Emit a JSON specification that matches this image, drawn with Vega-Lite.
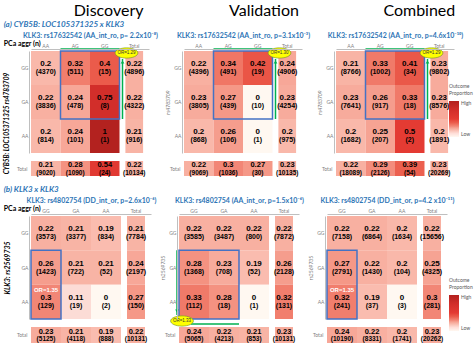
{
 "$schema": "https://vega.github.io/schema/vega-lite/v6.json",
 "padding": {"left": 3, "top": 2, "right": 2, "bottom": 1},
 "background": "white",
 "datasets": {
  "cells": [
   {"pn":"a1","r":"GG","c":"AA","p":0.2,"n":4370},{"pn":"a1","r":"GG","c":"AG","p":0.32,"n":511},{"pn":"a1","r":"GG","c":"GG","p":0.4,"n":15},{"pn":"a1","r":"GG","c":"Total","p":0.22,"n":4896},
   {"pn":"a1","r":"GA","c":"AA","p":0.22,"n":3836},{"pn":"a1","r":"GA","c":"AG","p":0.24,"n":478},{"pn":"a1","r":"GA","c":"GG","p":0.75,"n":8},{"pn":"a1","r":"GA","c":"Total","p":0.22,"n":4322},
   {"pn":"a1","r":"AA","c":"AA","p":0.2,"n":814},{"pn":"a1","r":"AA","c":"AG","p":0.24,"n":101},{"pn":"a1","r":"AA","c":"GG","p":1,"n":1},{"pn":"a1","r":"AA","c":"Total","p":0.21,"n":916},
   {"pn":"a1","r":"Total","c":"AA","p":0.21,"n":9020},{"pn":"a1","r":"Total","c":"AG","p":0.28,"n":1090},{"pn":"a1","r":"Total","c":"GG","p":0.54,"n":24},{"pn":"a1","r":"Total","c":"Total","p":0.22,"n":10134},
   {"pn":"a2","r":"GG","c":"AA","p":0.22,"n":4396},{"pn":"a2","r":"GG","c":"AG","p":0.34,"n":491},{"pn":"a2","r":"GG","c":"GG","p":0.42,"n":19},{"pn":"a2","r":"GG","c":"Total","p":0.24,"n":4906},
   {"pn":"a2","r":"GA","c":"AA","p":0.23,"n":3805},{"pn":"a2","r":"GA","c":"AG","p":0.27,"n":439},{"pn":"a2","r":"GA","c":"GG","p":0,"n":10},{"pn":"a2","r":"GA","c":"Total","p":0.23,"n":4254},
   {"pn":"a2","r":"AA","c":"AA","p":0.2,"n":868},{"pn":"a2","r":"AA","c":"AG","p":0.26,"n":106},{"pn":"a2","r":"AA","c":"GG","p":0,"n":1},{"pn":"a2","r":"AA","c":"Total","p":0.2,"n":975},
   {"pn":"a2","r":"Total","c":"AA","p":0.22,"n":9069},{"pn":"a2","r":"Total","c":"AG","p":0.3,"n":1036},{"pn":"a2","r":"Total","c":"GG","p":0.27,"n":30},{"pn":"a2","r":"Total","c":"Total","p":0.23,"n":10135},
   {"pn":"a3","r":"GG","c":"AA","p":0.21,"n":8766},{"pn":"a3","r":"GG","c":"AG","p":0.33,"n":1002},{"pn":"a3","r":"GG","c":"GG","p":0.41,"n":34},{"pn":"a3","r":"GG","c":"Total","p":0.23,"n":9802},
   {"pn":"a3","r":"GA","c":"AA","p":0.23,"n":7641},{"pn":"a3","r":"GA","c":"AG","p":0.26,"n":917},{"pn":"a3","r":"GA","c":"GG","p":0.33,"n":18},{"pn":"a3","r":"GA","c":"Total","p":0.23,"n":8576},
   {"pn":"a3","r":"AA","c":"AA","p":0.2,"n":1682},{"pn":"a3","r":"AA","c":"AG","p":0.25,"n":207},{"pn":"a3","r":"AA","c":"GG","p":0.5,"n":2},{"pn":"a3","r":"AA","c":"Total","p":0.2,"n":1891},
   {"pn":"a3","r":"Total","c":"AA","p":0.22,"n":18089},{"pn":"a3","r":"Total","c":"AG","p":0.29,"n":2126},{"pn":"a3","r":"Total","c":"GG","p":0.39,"n":54},{"pn":"a3","r":"Total","c":"Total","p":0.23,"n":20269},
   {"pn":"b1","r":"GG","c":"GG","p":0.22,"n":3573},{"pn":"b1","r":"GG","c":"GA","p":0.21,"n":3377},{"pn":"b1","r":"GG","c":"AA","p":0.19,"n":834},{"pn":"b1","r":"GG","c":"Total","p":0.21,"n":7784},
   {"pn":"b1","r":"GA","c":"GG","p":0.26,"n":1423},{"pn":"b1","r":"GA","c":"GA","p":0.21,"n":722},{"pn":"b1","r":"GA","c":"AA","p":0.21,"n":52},{"pn":"b1","r":"GA","c":"Total","p":0.24,"n":2197},
   {"pn":"b1","r":"AA","c":"GG","p":0.3,"n":129},{"pn":"b1","r":"AA","c":"GA","p":0.11,"n":19},{"pn":"b1","r":"AA","c":"AA","p":0,"n":2},{"pn":"b1","r":"AA","c":"Total","p":0.27,"n":150},
   {"pn":"b1","r":"Total","c":"GG","p":0.23,"n":5125},{"pn":"b1","r":"Total","c":"GA","p":0.21,"n":4118},{"pn":"b1","r":"Total","c":"AA","p":0.19,"n":888},{"pn":"b1","r":"Total","c":"Total","p":0.22,"n":10131},
   {"pn":"b2","r":"GG","c":"GG","p":0.22,"n":3585},{"pn":"b2","r":"GG","c":"GA","p":0.22,"n":3487},{"pn":"b2","r":"GG","c":"AA","p":0.22,"n":800},{"pn":"b2","r":"GG","c":"Total","p":0.22,"n":7872},
   {"pn":"b2","r":"GA","c":"GG","p":0.28,"n":1368},{"pn":"b2","r":"GA","c":"GA","p":0.23,"n":708},{"pn":"b2","r":"GA","c":"AA","p":0.19,"n":52},{"pn":"b2","r":"GA","c":"Total","p":0.26,"n":2128},
   {"pn":"b2","r":"AA","c":"GG","p":0.33,"n":112},{"pn":"b2","r":"AA","c":"GA","p":0.28,"n":18},{"pn":"b2","r":"AA","c":"AA","p":0,"n":1},{"pn":"b2","r":"AA","c":"Total","p":0.32,"n":131},
   {"pn":"b2","r":"Total","c":"GG","p":0.24,"n":5065},{"pn":"b2","r":"Total","c":"GA","p":0.22,"n":4213},{"pn":"b2","r":"Total","c":"AA","p":0.21,"n":853},{"pn":"b2","r":"Total","c":"Total","p":0.23,"n":10131},
   {"pn":"b3","r":"GG","c":"GG","p":0.22,"n":7158},{"pn":"b3","r":"GG","c":"GA","p":0.22,"n":6864},{"pn":"b3","r":"GG","c":"AA","p":0.2,"n":1634},{"pn":"b3","r":"GG","c":"Total","p":0.22,"n":15656},
   {"pn":"b3","r":"GA","c":"GG","p":0.27,"n":2791},{"pn":"b3","r":"GA","c":"GA","p":0.22,"n":1430},{"pn":"b3","r":"GA","c":"AA","p":0.2,"n":104},{"pn":"b3","r":"GA","c":"Total","p":0.25,"n":4325},
   {"pn":"b3","r":"AA","c":"GG","p":0.32,"n":241},{"pn":"b3","r":"AA","c":"GA","p":0.19,"n":37},{"pn":"b3","r":"AA","c":"AA","p":0,"n":3},{"pn":"b3","r":"AA","c":"Total","p":0.3,"n":281},
   {"pn":"b3","r":"Total","c":"GG","p":0.24,"n":10190},{"pn":"b3","r":"Total","c":"GA","p":0.22,"n":8331},{"pn":"b3","r":"Total","c":"AA","p":0.2,"n":1741},{"pn":"b3","r":"Total","c":"Total","p":0.23,"n":20262}
  ]
 },
 "config": {
  "view": {"stroke": null},
  "font": "Lato",
  "axis": {"labelFontSize": 5, "labelColor": "#7f7f7f", "ticks": false, "domainColor": "#bfbfbf", "labelAngle": 0, "labelPadding": 1, "titleFontWeight": "bold"},
  "legend": {"titleFontSize": 5, "titleFontWeight": "normal", "titleColor": "#595959", "labelFontSize": 5, "labelColor": "#595959", "gradientLength": 36, "gradientThickness": 10, "orient": "none"},
  "title": {"fontSize": 8, "fontWeight": "bold", "fontStyle": "italic", "color": "#2e75b6", "offset": 2, "anchor": "start"},
  "text": {"font": "Liberation Sans", "fontWeight": "bold", "color": "#000", "baseline": "middle"}
 },
 "resolve": {"scale": {"color": "independent"}},
 "spacing": 10,
 "vconcat": [
  {"spacing": 2, "vconcat": [
   {"width": 466, "height": 17,
    "data": {"values": [{"h": "Discovery"}, {"h": "Validation"}, {"h": "Combined"}]},
    "mark": {"type": "text", "font": "Lato", "fontWeight": "normal", "fontSize": 16, "color": "#000"},
    "encoding": {
     "x": {"field": "h", "type": "nominal", "sort": null, "axis": null, "scale": {"paddingInner": 0, "paddingOuter": 0}},
     "text": {"field": "h"}
    }},
   {"title": {"text": "(a) CYB5B: LOC105371325 x KLK3"}, "spacing": 7, "hconcat": [
    {"bounds": "flush", "spacing": 8, "vconcat": [
     {"width": 118, "height": 102, "data": {"name": "cells"},
      "title": {"text": "PCa aggr (n)", "anchor": "start", "frame": "bounds", "fontSize": 7, "fontWeight": "bold", "fontStyle": "normal", "color": "#000", "offset": -16},
      "encoding": {
       "x": {"field": "c", "type": "nominal", "scale": {"domain": ["AA","AG","GG","Total"], "paddingInner": 0, "paddingOuter": 0}, "axis": {"orient": "top", "offset": 2, "title": "KLK3: rs17632542 (AA_int_ro, p= 2.2x10⁻⁸)", "titleFontSize": 7, "titleColor": "#2e75b6", "titlePadding": 5}},
       "y": {"field": "r", "type": "nominal", "scale": {"domain": ["GG","GA","AA"], "paddingInner": 0, "paddingOuter": 0}, "axis": {"offset": 2, "title": "CYB5B: LOC105371325 rs4783709", "titleFontSize": 6.5, "titleFontStyle": "italic", "titleColor": "#000", "titlePadding": 11, "titleY": 72}}
      },
      "layer": [
       {"transform": [{"filter": "datum.pn==='a1' && datum.r!=='Total' && datum.c!=='Total'"}], "mark": "rect", "encoding": {"color": {"field":"p","type":"quantitative","scale":{"domain":[0,0.11,0.2,0.25,0.3,0.4,0.5,0.75,1],"range":["#ffffff","#fcdcd6","#f9b8aa","#f6a393","#f28676","#eb5b4b","#e43b33","#d22e2a","#b3221f"]},"legend":{"title":["Outcome","Proportion"],"values":[0,1],"labelExpr":"datum.value>=1?'High':'Low'","legendX":418,"legendY":82}}}},
       {"transform": [{"filter": "datum.pn==='a1' && datum.r!=='Total' && datum.c==='Total'"}], "mark": {"type": "rect", "width": {"band": 0.6}}, "encoding": {"color": {"field":"p","type":"quantitative","scale":{"domain":[0,0.11,0.2,0.25,0.3,0.4,0.5,0.75,1],"range":["#ffffff","#fcdcd6","#f9b8aa","#f6a393","#f28676","#eb5b4b","#e43b33","#d22e2a","#b3221f"]},"legend":{"title":["Outcome","Proportion"],"values":[0,1],"labelExpr":"datum.value>=1?'High':'Low'","legendX":418,"legendY":82}}}},
       {"transform": [{"filter": "datum.pn==='a1' && datum.r!=='Total'"}], "mark": {"type": "text", "dy": -4, "fontSize": 8}, "encoding": {"text": {"field": "p", "type": "nominal"}}},
       {"transform": [{"filter": "datum.pn==='a1' && datum.r!=='Total'"}], "mark": {"type": "text", "dy": 4, "fontSize": 7, "text": {"expr": "'(' + datum.n + ')'"}}},
       {"data": {"values": [{}]}, "mark": {"type": "rect", "filled": false, "stroke": "#4472c4", "strokeWidth": 1.5}, "encoding": {"x": {"datum": "AG", "type": "nominal", "bandPosition": 0}, "x2": {"datum": "GG", "bandPosition": 1}, "y": {"datum": "GG", "type": "nominal", "bandPosition": 0}, "y2": {"datum": "GA", "bandPosition": 1}}},
       {"data": {"values": [{}]}, "mark": {"type": "rule", "color": "#00b050", "strokeWidth": 1.5, "yOffset": -2}, "encoding": {"x": {"datum": "AG", "type": "nominal", "bandPosition": 0}, "x2": {"datum": "GG", "bandPosition": 1}, "y": {"datum": "GG", "type": "nominal", "bandPosition": 0}}},
       {"data": {"values": [{}]}, "mark": {"type": "rule", "color": "#00b050", "strokeWidth": 1.5, "xOffset": 3, "y2Offset": 8}, "encoding": {"x": {"datum": "GG", "type": "nominal", "bandPosition": 1}, "y": {"datum": "GA", "type": "nominal", "bandPosition": 1}, "y2": {"datum": "GG", "bandPosition": 0}}},
       {"data": {"values": [{}]}, "mark": {"type": "point", "shape": "triangle-up", "filled": true, "size": 14, "color": "#00b050", "opacity": 1, "xOffset": 3, "yOffset": 11}, "encoding": {"x": {"datum": "GG", "type": "nominal", "bandPosition": 1}, "y": {"datum": "GG", "type": "nominal", "bandPosition": 0}}},
       {"data": {"values": [{}]}, "mark": {"type": "point", "shape": "M-1,0A1,0.45 0 1,0 1,0A1,0.45 0 1,0 -1,0Z", "filled": true, "size": 520, "color": "#ffff00", "stroke": "#6b8e23", "strokeWidth": 0.6, "opacity": 1, "xOffset": 7, "yOffset": 2}, "encoding": {"x": {"datum": "GG", "type": "nominal", "bandPosition": 1}, "y": {"datum": "GG", "type": "nominal", "bandPosition": 0}}},
       {"data": {"values": [{}]}, "mark": {"type": "text", "text": "OR=1.29", "fontSize": 4.5, "fontWeight": "normal", "color": "#333", "xOffset": 7, "yOffset": 2}, "encoding": {"x": {"datum": "GG", "type": "nominal", "bandPosition": 1}, "y": {"datum": "GG", "type": "nominal", "bandPosition": 0}}}
      ]},
     {"width": 118, "height": 15, "data": {"name": "cells"},
      "encoding": {
       "x": {"field": "c", "type": "nominal", "scale": {"domain": ["AA","AG","GG","Total"], "paddingInner": 0, "paddingOuter": 0}, "axis": null},
       "y": {"field": "r", "type": "nominal", "scale": {"domain": ["Total"], "paddingInner": 0, "paddingOuter": 0}, "axis": {"title": null, "domain": false, "labelPadding": 4}}
      },
      "layer": [
       {"transform": [{"filter": "datum.pn==='a1' && datum.r==='Total' && datum.c!=='Total'"}], "mark": "rect", "encoding": {"color": {"field":"p","type":"quantitative","scale":{"domain":[0,0.11,0.2,0.25,0.3,0.4,0.5,0.75,1],"range":["#ffffff","#fcdcd6","#f9b8aa","#f6a393","#f28676","#eb5b4b","#e43b33","#d22e2a","#b3221f"]},"legend":{"title":["Outcome","Proportion"],"values":[0,1],"labelExpr":"datum.value>=1?'High':'Low'","legendX":418,"legendY":82}}}},
       {"transform": [{"filter": "datum.pn==='a1' && datum.r==='Total' && datum.c==='Total'"}], "mark": {"type": "rect", "width": {"band": 0.6}}, "encoding": {"color": {"field":"p","type":"quantitative","scale":{"domain":[0,0.11,0.2,0.25,0.3,0.4,0.5,0.75,1],"range":["#ffffff","#fcdcd6","#f9b8aa","#f6a393","#f28676","#eb5b4b","#e43b33","#d22e2a","#b3221f"]},"legend":{"title":["Outcome","Proportion"],"values":[0,1],"labelExpr":"datum.value>=1?'High':'Low'","legendX":418,"legendY":82}}}},
       {"transform": [{"filter": "datum.pn==='a1' && datum.r==='Total'"}], "mark": {"type": "text", "dy": -3.5, "fontSize": 7.5}, "encoding": {"text": {"field": "p", "type": "nominal"}}},
       {"transform": [{"filter": "datum.pn==='a1' && datum.r==='Total'"}], "mark": {"type": "text", "dy": 4, "fontSize": 6.5, "text": {"expr": "'(' + datum.n + ')'"}}}
      ]}
    ]},
    {"bounds": "flush", "spacing": 8, "vconcat": [
     {"width": 118, "height": 102, "data": {"name": "cells"},
      "encoding": {
       "x": {"field": "c", "type": "nominal", "scale": {"domain": ["AA","AG","GG","Total"], "paddingInner": 0, "paddingOuter": 0}, "axis": {"orient": "top", "offset": 2, "title": "KLK3: rs17632542 (AA_int_ro, p=3.1x10⁻³)", "titleFontSize": 7, "titleColor": "#2e75b6", "titlePadding": 5}},
       "y": {"field": "r", "type": "nominal", "scale": {"domain": ["GG","GA","AA"], "paddingInner": 0, "paddingOuter": 0}, "axis": {"offset": 2, "title": "rs4783709", "titleFontSize": 5, "titleFontWeight": "normal", "titleColor": "#7f7f7f", "titlePadding": 3}}
      },
      "layer": [
       {"transform": [{"filter": "datum.pn==='a2' && datum.r!=='Total' && datum.c!=='Total'"}], "mark": "rect", "encoding": {"color": {"field":"p","type":"quantitative","scale":{"domain":[0,0.11,0.2,0.25,0.3,0.4,0.5,0.75,1],"range":["#ffffff","#fcdcd6","#f9b8aa","#f6a393","#f28676","#eb5b4b","#e43b33","#d22e2a","#b3221f"]},"legend":{"title":["Outcome","Proportion"],"values":[0,1],"labelExpr":"datum.value>=1?'High':'Low'","legendX":418,"legendY":82}}}},
       {"transform": [{"filter": "datum.pn==='a2' && datum.r!=='Total' && datum.c==='Total'"}], "mark": {"type": "rect", "width": {"band": 0.6}}, "encoding": {"color": {"field":"p","type":"quantitative","scale":{"domain":[0,0.11,0.2,0.25,0.3,0.4,0.5,0.75,1],"range":["#ffffff","#fcdcd6","#f9b8aa","#f6a393","#f28676","#eb5b4b","#e43b33","#d22e2a","#b3221f"]},"legend":{"title":["Outcome","Proportion"],"values":[0,1],"labelExpr":"datum.value>=1?'High':'Low'","legendX":418,"legendY":82}}}},
       {"transform": [{"filter": "datum.pn==='a2' && datum.r!=='Total'"}], "mark": {"type": "text", "dy": -4, "fontSize": 8}, "encoding": {"text": {"field": "p", "type": "nominal"}}},
       {"transform": [{"filter": "datum.pn==='a2' && datum.r!=='Total'"}], "mark": {"type": "text", "dy": 4, "fontSize": 7, "text": {"expr": "'(' + datum.n + ')'"}}},
       {"data": {"values": [{}]}, "mark": {"type": "rect", "filled": false, "stroke": "#4472c4", "strokeWidth": 1.5}, "encoding": {"x": {"datum": "AG", "type": "nominal", "bandPosition": 0}, "x2": {"datum": "GG", "bandPosition": 1}, "y": {"datum": "GG", "type": "nominal", "bandPosition": 0}, "y2": {"datum": "GA", "bandPosition": 1}}},
       {"data": {"values": [{}]}, "mark": {"type": "rule", "color": "#00b050", "strokeWidth": 1.5, "yOffset": -2}, "encoding": {"x": {"datum": "AG", "type": "nominal", "bandPosition": 0}, "x2": {"datum": "GG", "bandPosition": 1}, "y": {"datum": "GG", "type": "nominal", "bandPosition": 0}}},
       {"data": {"values": [{}]}, "mark": {"type": "rule", "color": "#00b050", "strokeWidth": 1.5, "xOffset": 3, "y2Offset": 8}, "encoding": {"x": {"datum": "GG", "type": "nominal", "bandPosition": 1}, "y": {"datum": "GA", "type": "nominal", "bandPosition": 1}, "y2": {"datum": "GG", "bandPosition": 0}}},
       {"data": {"values": [{}]}, "mark": {"type": "point", "shape": "triangle-up", "filled": true, "size": 14, "color": "#00b050", "opacity": 1, "xOffset": 3, "yOffset": 11}, "encoding": {"x": {"datum": "GG", "type": "nominal", "bandPosition": 1}, "y": {"datum": "GG", "type": "nominal", "bandPosition": 0}}},
       {"data": {"values": [{}]}, "mark": {"type": "point", "shape": "M-1,0A1,0.45 0 1,0 1,0A1,0.45 0 1,0 -1,0Z", "filled": true, "size": 520, "color": "#ffff00", "stroke": "#6b8e23", "strokeWidth": 0.6, "opacity": 1, "xOffset": 7, "yOffset": 2}, "encoding": {"x": {"datum": "GG", "type": "nominal", "bandPosition": 1}, "y": {"datum": "GG", "type": "nominal", "bandPosition": 0}}},
       {"data": {"values": [{}]}, "mark": {"type": "text", "text": "OR=1.30", "fontSize": 4.5, "fontWeight": "normal", "color": "#333", "xOffset": 7, "yOffset": 2}, "encoding": {"x": {"datum": "GG", "type": "nominal", "bandPosition": 1}, "y": {"datum": "GG", "type": "nominal", "bandPosition": 0}}}
      ]},
     {"width": 118, "height": 15, "data": {"name": "cells"},
      "encoding": {
       "x": {"field": "c", "type": "nominal", "scale": {"domain": ["AA","AG","GG","Total"], "paddingInner": 0, "paddingOuter": 0}, "axis": null},
       "y": {"field": "r", "type": "nominal", "scale": {"domain": ["Total"], "paddingInner": 0, "paddingOuter": 0}, "axis": {"title": null, "domain": false, "labelPadding": 4}}
      },
      "layer": [
       {"transform": [{"filter": "datum.pn==='a2' && datum.r==='Total' && datum.c!=='Total'"}], "mark": "rect", "encoding": {"color": {"field":"p","type":"quantitative","scale":{"domain":[0,0.11,0.2,0.25,0.3,0.4,0.5,0.75,1],"range":["#ffffff","#fcdcd6","#f9b8aa","#f6a393","#f28676","#eb5b4b","#e43b33","#d22e2a","#b3221f"]},"legend":{"title":["Outcome","Proportion"],"values":[0,1],"labelExpr":"datum.value>=1?'High':'Low'","legendX":418,"legendY":82}}}},
       {"transform": [{"filter": "datum.pn==='a2' && datum.r==='Total' && datum.c==='Total'"}], "mark": {"type": "rect", "width": {"band": 0.6}}, "encoding": {"color": {"field":"p","type":"quantitative","scale":{"domain":[0,0.11,0.2,0.25,0.3,0.4,0.5,0.75,1],"range":["#ffffff","#fcdcd6","#f9b8aa","#f6a393","#f28676","#eb5b4b","#e43b33","#d22e2a","#b3221f"]},"legend":{"title":["Outcome","Proportion"],"values":[0,1],"labelExpr":"datum.value>=1?'High':'Low'","legendX":418,"legendY":82}}}},
       {"transform": [{"filter": "datum.pn==='a2' && datum.r==='Total'"}], "mark": {"type": "text", "dy": -3.5, "fontSize": 7.5}, "encoding": {"text": {"field": "p", "type": "nominal"}}},
       {"transform": [{"filter": "datum.pn==='a2' && datum.r==='Total'"}], "mark": {"type": "text", "dy": 4, "fontSize": 6.5, "text": {"expr": "'(' + datum.n + ')'"}}}
      ]}
    ]},
    {"bounds": "flush", "spacing": 8, "vconcat": [
     {"width": 118, "height": 102, "data": {"name": "cells"},
      "encoding": {
       "x": {"field": "c", "type": "nominal", "scale": {"domain": ["AA","AG","GG","Total"], "paddingInner": 0, "paddingOuter": 0}, "axis": {"orient": "top", "offset": 2, "title": "KLK3: rs17632542 (AA_int_ro, p=4.6x10⁻¹⁰)", "titleFontSize": 7, "titleColor": "#2e75b6", "titlePadding": 5}},
       "y": {"field": "r", "type": "nominal", "scale": {"domain": ["GG","GA","AA"], "paddingInner": 0, "paddingOuter": 0}, "axis": {"offset": 2, "title": "rs4783709", "titleFontSize": 5, "titleFontWeight": "normal", "titleColor": "#7f7f7f", "titlePadding": 3}}
      },
      "layer": [
       {"transform": [{"filter": "datum.pn==='a3' && datum.r!=='Total' && datum.c!=='Total'"}], "mark": "rect", "encoding": {"color": {"field":"p","type":"quantitative","scale":{"domain":[0,0.11,0.2,0.25,0.3,0.4,0.5,0.75,1],"range":["#ffffff","#fcdcd6","#f9b8aa","#f6a393","#f28676","#eb5b4b","#e43b33","#d22e2a","#b3221f"]},"legend":{"title":["Outcome","Proportion"],"values":[0,1],"labelExpr":"datum.value>=1?'High':'Low'","legendX":418,"legendY":82}}}},
       {"transform": [{"filter": "datum.pn==='a3' && datum.r!=='Total' && datum.c==='Total'"}], "mark": {"type": "rect", "width": {"band": 0.6}}, "encoding": {"color": {"field":"p","type":"quantitative","scale":{"domain":[0,0.11,0.2,0.25,0.3,0.4,0.5,0.75,1],"range":["#ffffff","#fcdcd6","#f9b8aa","#f6a393","#f28676","#eb5b4b","#e43b33","#d22e2a","#b3221f"]},"legend":{"title":["Outcome","Proportion"],"values":[0,1],"labelExpr":"datum.value>=1?'High':'Low'","legendX":418,"legendY":82}}}},
       {"transform": [{"filter": "datum.pn==='a3' && datum.r!=='Total'"}], "mark": {"type": "text", "dy": -4, "fontSize": 8}, "encoding": {"text": {"field": "p", "type": "nominal"}}},
       {"transform": [{"filter": "datum.pn==='a3' && datum.r!=='Total'"}], "mark": {"type": "text", "dy": 4, "fontSize": 7, "text": {"expr": "'(' + datum.n + ')'"}}},
       {"data": {"values": [{}]}, "mark": {"type": "rect", "filled": false, "stroke": "#4472c4", "strokeWidth": 1.5}, "encoding": {"x": {"datum": "AG", "type": "nominal", "bandPosition": 0}, "x2": {"datum": "GG", "bandPosition": 1}, "y": {"datum": "GG", "type": "nominal", "bandPosition": 0}, "y2": {"datum": "GA", "bandPosition": 1}}},
       {"data": {"values": [{}]}, "mark": {"type": "rule", "color": "#00b050", "strokeWidth": 1.5, "yOffset": -2}, "encoding": {"x": {"datum": "AG", "type": "nominal", "bandPosition": 0}, "x2": {"datum": "GG", "bandPosition": 1}, "y": {"datum": "GG", "type": "nominal", "bandPosition": 0}}},
       {"data": {"values": [{}]}, "mark": {"type": "rule", "color": "#00b050", "strokeWidth": 1.5, "xOffset": 3, "y2Offset": 8}, "encoding": {"x": {"datum": "GG", "type": "nominal", "bandPosition": 1}, "y": {"datum": "GA", "type": "nominal", "bandPosition": 1}, "y2": {"datum": "GG", "bandPosition": 0}}},
       {"data": {"values": [{}]}, "mark": {"type": "point", "shape": "triangle-up", "filled": true, "size": 14, "color": "#00b050", "opacity": 1, "xOffset": 3, "yOffset": 11}, "encoding": {"x": {"datum": "GG", "type": "nominal", "bandPosition": 1}, "y": {"datum": "GG", "type": "nominal", "bandPosition": 0}}},
       {"data": {"values": [{}]}, "mark": {"type": "point", "shape": "M-1,0A1,0.45 0 1,0 1,0A1,0.45 0 1,0 -1,0Z", "filled": true, "size": 520, "color": "#ffff00", "stroke": "#6b8e23", "strokeWidth": 0.6, "opacity": 1, "xOffset": 7, "yOffset": 2}, "encoding": {"x": {"datum": "GG", "type": "nominal", "bandPosition": 1}, "y": {"datum": "GG", "type": "nominal", "bandPosition": 0}}},
       {"data": {"values": [{}]}, "mark": {"type": "text", "text": "OR=1.29", "fontSize": 4.5, "fontWeight": "normal", "color": "#333", "xOffset": 7, "yOffset": 2}, "encoding": {"x": {"datum": "GG", "type": "nominal", "bandPosition": 1}, "y": {"datum": "GG", "type": "nominal", "bandPosition": 0}}}
      ]},
     {"width": 118, "height": 15, "data": {"name": "cells"},
      "encoding": {
       "x": {"field": "c", "type": "nominal", "scale": {"domain": ["AA","AG","GG","Total"], "paddingInner": 0, "paddingOuter": 0}, "axis": null},
       "y": {"field": "r", "type": "nominal", "scale": {"domain": ["Total"], "paddingInner": 0, "paddingOuter": 0}, "axis": {"title": null, "domain": false, "labelPadding": 4}}
      },
      "layer": [
       {"transform": [{"filter": "datum.pn==='a3' && datum.r==='Total' && datum.c!=='Total'"}], "mark": "rect", "encoding": {"color": {"field":"p","type":"quantitative","scale":{"domain":[0,0.11,0.2,0.25,0.3,0.4,0.5,0.75,1],"range":["#ffffff","#fcdcd6","#f9b8aa","#f6a393","#f28676","#eb5b4b","#e43b33","#d22e2a","#b3221f"]},"legend":{"title":["Outcome","Proportion"],"values":[0,1],"labelExpr":"datum.value>=1?'High':'Low'","legendX":418,"legendY":82}}}},
       {"transform": [{"filter": "datum.pn==='a3' && datum.r==='Total' && datum.c==='Total'"}], "mark": {"type": "rect", "width": {"band": 0.6}}, "encoding": {"color": {"field":"p","type":"quantitative","scale":{"domain":[0,0.11,0.2,0.25,0.3,0.4,0.5,0.75,1],"range":["#ffffff","#fcdcd6","#f9b8aa","#f6a393","#f28676","#eb5b4b","#e43b33","#d22e2a","#b3221f"]},"legend":{"title":["Outcome","Proportion"],"values":[0,1],"labelExpr":"datum.value>=1?'High':'Low'","legendX":418,"legendY":82}}}},
       {"transform": [{"filter": "datum.pn==='a3' && datum.r==='Total'"}], "mark": {"type": "text", "dy": -3.5, "fontSize": 7.5}, "encoding": {"text": {"field": "p", "type": "nominal"}}},
       {"transform": [{"filter": "datum.pn==='a3' && datum.r==='Total'"}], "mark": {"type": "text", "dy": 4, "fontSize": 6.5, "text": {"expr": "'(' + datum.n + ')'"}}}
      ]}
    ]}
   ]}
  ]},
  {"title": {"text": "(b) KLK3 x KLK3"}, "spacing": 4, "hconcat": [
   {"bounds": "flush", "spacing": 8, "vconcat": [
    {"width": 120, "height": 103, "data": {"name": "cells"},
     "title": {"text": "PCa aggr (n)", "anchor": "start", "frame": "bounds", "fontSize": 7, "fontWeight": "bold", "fontStyle": "normal", "color": "#000", "offset": -16},
     "encoding": {
      "x": {"field": "c", "type": "nominal", "scale": {"domain": ["GG","GA","AA","Total"], "paddingInner": 0, "paddingOuter": 0}, "axis": {"orient": "top", "offset": 2, "title": "KLK3: rs4802754 (DD_int_or, p=2.6x10⁻⁶)", "titleFontSize": 7, "titleColor": "#2e75b6", "titlePadding": 5}},
      "y": {"field": "r", "type": "nominal", "scale": {"domain": ["GG","GA","AA"], "paddingInner": 0, "paddingOuter": 0}, "axis": {"offset": 2, "title": "KLK3: rs2569735", "titleFontSize": 7, "titleFontStyle": "italic", "titleColor": "#000", "titlePadding": 10}}
     },
     "layer": [
      {"transform": [{"filter": "datum.pn==='b1' && datum.r!=='Total' && datum.c!=='Total'"}], "mark": "rect", "encoding": {"color": {"field":"p","type":"quantitative","scale":{"domain":[0,0.11,0.2,0.25,0.3,0.4,0.5,0.75,1],"range":["#ffffff","#fcdcd6","#f9b8aa","#f6a393","#f28676","#eb5b4b","#e43b33","#d22e2a","#b3221f"]},"legend":{"title":["Outcome","Proportion"],"values":[0,1],"labelExpr":"datum.value>=1?'High':'Low'","legendX":418,"legendY":62}}}},
      {"transform": [{"filter": "datum.pn==='b1' && datum.r!=='Total' && datum.c==='Total'"}], "mark": {"type": "rect", "width": {"band": 0.6}}, "encoding": {"color": {"field":"p","type":"quantitative","scale":{"domain":[0,0.11,0.2,0.25,0.3,0.4,0.5,0.75,1],"range":["#ffffff","#fcdcd6","#f9b8aa","#f6a393","#f28676","#eb5b4b","#e43b33","#d22e2a","#b3221f"]},"legend":{"title":["Outcome","Proportion"],"values":[0,1],"labelExpr":"datum.value>=1?'High':'Low'","legendX":418,"legendY":62}}}},
      {"transform": [{"filter": "datum.pn==='b1' && datum.r!=='Total'"}], "mark": {"type": "text", "dy": -4, "fontSize": 8}, "encoding": {"text": {"field": "p", "type": "nominal"}}},
      {"transform": [{"filter": "datum.pn==='b1' && datum.r!=='Total'"}], "mark": {"type": "text", "dy": 4, "fontSize": 7, "text": {"expr": "'(' + datum.n + ')'"}}},
      {"data": {"values": [{}]}, "mark": {"type": "rect", "filled": false, "stroke": "#4472c4", "strokeWidth": 1.5}, "encoding": {"x": {"datum": "GG", "type": "nominal", "bandPosition": 0}, "x2": {"datum": "GG", "bandPosition": 1}, "y": {"datum": "GA", "type": "nominal", "bandPosition": 0}, "y2": {"datum": "AA", "bandPosition": 1}}},
      {"data": {"values": [{}]}, "mark": {"type": "text", "text": "OR=1.35", "fontSize": 6, "color": "#ffffff", "yOffset": 5}, "encoding": {"x": {"datum": "GG", "type": "nominal"}, "y": {"datum": "AA", "type": "nominal", "bandPosition": 0}}}
     ]},
    {"width": 120, "height": 16, "data": {"name": "cells"},
     "encoding": {
      "x": {"field": "c", "type": "nominal", "scale": {"domain": ["GG","GA","AA","Total"], "paddingInner": 0, "paddingOuter": 0}, "axis": null},
      "y": {"field": "r", "type": "nominal", "scale": {"domain": ["Total"], "paddingInner": 0, "paddingOuter": 0}, "axis": {"title": null, "domain": false, "labelPadding": 4}}
     },
     "layer": [
      {"transform": [{"filter": "datum.pn==='b1' && datum.r==='Total' && datum.c!=='Total'"}], "mark": "rect", "encoding": {"color": {"field":"p","type":"quantitative","scale":{"domain":[0,0.11,0.2,0.25,0.3,0.4,0.5,0.75,1],"range":["#ffffff","#fcdcd6","#f9b8aa","#f6a393","#f28676","#eb5b4b","#e43b33","#d22e2a","#b3221f"]},"legend":{"title":["Outcome","Proportion"],"values":[0,1],"labelExpr":"datum.value>=1?'High':'Low'","legendX":418,"legendY":62}}}},
      {"transform": [{"filter": "datum.pn==='b1' && datum.r==='Total' && datum.c==='Total'"}], "mark": {"type": "rect", "width": {"band": 0.6}}, "encoding": {"color": {"field":"p","type":"quantitative","scale":{"domain":[0,0.11,0.2,0.25,0.3,0.4,0.5,0.75,1],"range":["#ffffff","#fcdcd6","#f9b8aa","#f6a393","#f28676","#eb5b4b","#e43b33","#d22e2a","#b3221f"]},"legend":{"title":["Outcome","Proportion"],"values":[0,1],"labelExpr":"datum.value>=1?'High':'Low'","legendX":418,"legendY":62}}}},
      {"transform": [{"filter": "datum.pn==='b1' && datum.r==='Total'"}], "mark": {"type": "text", "dy": -3.5, "fontSize": 7.5}, "encoding": {"text": {"field": "p", "type": "nominal"}}},
      {"transform": [{"filter": "datum.pn==='b1' && datum.r==='Total'"}], "mark": {"type": "text", "dy": 4, "fontSize": 6.5, "text": {"expr": "'(' + datum.n + ')'"}}}
     ]}
   ]},
   {"bounds": "flush", "spacing": 8, "vconcat": [
    {"width": 120, "height": 103, "data": {"name": "cells"},
     "encoding": {
      "x": {"field": "c", "type": "nominal", "scale": {"domain": ["GG","GA","AA","Total"], "paddingInner": 0, "paddingOuter": 0}, "axis": {"orient": "top", "offset": 2, "title": "KLK3: rs4802754 (AA_int_or, p=1.5x10⁻⁶)", "titleFontSize": 7, "titleColor": "#2e75b6", "titlePadding": 5}},
      "y": {"field": "r", "type": "nominal", "scale": {"domain": ["GG","GA","AA"], "paddingInner": 0, "paddingOuter": 0}, "axis": {"offset": 2, "title": "rs2569735", "titleFontSize": 5, "titleFontWeight": "normal", "titleColor": "#7f7f7f", "titlePadding": 3}}
     },
     "layer": [
      {"transform": [{"filter": "datum.pn==='b2' && datum.r!=='Total' && datum.c!=='Total'"}], "mark": "rect", "encoding": {"color": {"field":"p","type":"quantitative","scale":{"domain":[0,0.11,0.2,0.25,0.3,0.4,0.5,0.75,1],"range":["#ffffff","#fcdcd6","#f9b8aa","#f6a393","#f28676","#eb5b4b","#e43b33","#d22e2a","#b3221f"]},"legend":{"title":["Outcome","Proportion"],"values":[0,1],"labelExpr":"datum.value>=1?'High':'Low'","legendX":418,"legendY":62}}}},
      {"transform": [{"filter": "datum.pn==='b2' && datum.r!=='Total' && datum.c==='Total'"}], "mark": {"type": "rect", "width": {"band": 0.6}}, "encoding": {"color": {"field":"p","type":"quantitative","scale":{"domain":[0,0.11,0.2,0.25,0.3,0.4,0.5,0.75,1],"range":["#ffffff","#fcdcd6","#f9b8aa","#f6a393","#f28676","#eb5b4b","#e43b33","#d22e2a","#b3221f"]},"legend":{"title":["Outcome","Proportion"],"values":[0,1],"labelExpr":"datum.value>=1?'High':'Low'","legendX":418,"legendY":62}}}},
      {"transform": [{"filter": "datum.pn==='b2' && datum.r!=='Total'"}], "mark": {"type": "text", "dy": -4, "fontSize": 8}, "encoding": {"text": {"field": "p", "type": "nominal"}}},
      {"transform": [{"filter": "datum.pn==='b2' && datum.r!=='Total'"}], "mark": {"type": "text", "dy": 4, "fontSize": 7, "text": {"expr": "'(' + datum.n + ')'"}}},
      {"data": {"values": [{}]}, "mark": {"type": "rect", "filled": false, "stroke": "#4472c4", "strokeWidth": 1.5}, "encoding": {"x": {"datum": "GG", "type": "nominal", "bandPosition": 0}, "x2": {"datum": "GA", "bandPosition": 1}, "y": {"datum": "GA", "type": "nominal", "bandPosition": 0}, "y2": {"datum": "AA", "bandPosition": 1}}},
      {"data": {"values": [{}]}, "mark": {"type": "rule", "color": "#00b050", "strokeWidth": 1.5, "xOffset": -2, "y2Offset": -4}, "encoding": {"x": {"datum": "GG", "type": "nominal", "bandPosition": 0}, "y": {"datum": "GA", "type": "nominal", "bandPosition": 0}, "y2": {"datum": "AA", "bandPosition": 1}}},
      {"data": {"values": [{}]}, "mark": {"type": "rule", "color": "#00b050", "strokeWidth": 1.5, "yOffset": 5, "x2Offset": 12}, "encoding": {"x": {"datum": "GA", "type": "nominal", "bandPosition": 1}, "x2": {"datum": "GG", "bandPosition": 0}, "y": {"datum": "AA", "type": "nominal", "bandPosition": 1}}},
      {"data": {"values": [{}]}, "mark": {"type": "point", "shape": "triangle-down", "filled": true, "size": 14, "color": "#00b050", "opacity": 1, "xOffset": -2, "yOffset": -8}, "encoding": {"x": {"datum": "GG", "type": "nominal", "bandPosition": 0}, "y": {"datum": "AA", "type": "nominal", "bandPosition": 1}}},
      {"data": {"values": [{}]}, "mark": {"type": "point", "shape": "M-1,0A1,0.45 0 1,0 1,0A1,0.45 0 1,0 -1,0Z", "filled": true, "size": 520, "color": "#ffff00", "stroke": "#6b8e23", "strokeWidth": 0.6, "opacity": 1, "xOffset": 3, "yOffset": 2}, "encoding": {"x": {"datum": "GG", "type": "nominal", "bandPosition": 0}, "y": {"datum": "AA", "type": "nominal", "bandPosition": 1}}},
      {"data": {"values": [{}]}, "mark": {"type": "text", "text": "OR=1.33", "fontSize": 4.5, "fontWeight": "normal", "color": "#333", "xOffset": 3, "yOffset": 2}, "encoding": {"x": {"datum": "GG", "type": "nominal", "bandPosition": 0}, "y": {"datum": "AA", "type": "nominal", "bandPosition": 1}}}
     ]},
    {"width": 120, "height": 16, "data": {"name": "cells"},
     "encoding": {
      "x": {"field": "c", "type": "nominal", "scale": {"domain": ["GG","GA","AA","Total"], "paddingInner": 0, "paddingOuter": 0}, "axis": null},
      "y": {"field": "r", "type": "nominal", "scale": {"domain": ["Total"], "paddingInner": 0, "paddingOuter": 0}, "axis": {"title": null, "domain": false, "labelPadding": 4}}
     },
     "layer": [
      {"transform": [{"filter": "datum.pn==='b2' && datum.r==='Total' && datum.c!=='Total'"}], "mark": "rect", "encoding": {"color": {"field":"p","type":"quantitative","scale":{"domain":[0,0.11,0.2,0.25,0.3,0.4,0.5,0.75,1],"range":["#ffffff","#fcdcd6","#f9b8aa","#f6a393","#f28676","#eb5b4b","#e43b33","#d22e2a","#b3221f"]},"legend":{"title":["Outcome","Proportion"],"values":[0,1],"labelExpr":"datum.value>=1?'High':'Low'","legendX":418,"legendY":62}}}},
      {"transform": [{"filter": "datum.pn==='b2' && datum.r==='Total' && datum.c==='Total'"}], "mark": {"type": "rect", "width": {"band": 0.6}}, "encoding": {"color": {"field":"p","type":"quantitative","scale":{"domain":[0,0.11,0.2,0.25,0.3,0.4,0.5,0.75,1],"range":["#ffffff","#fcdcd6","#f9b8aa","#f6a393","#f28676","#eb5b4b","#e43b33","#d22e2a","#b3221f"]},"legend":{"title":["Outcome","Proportion"],"values":[0,1],"labelExpr":"datum.value>=1?'High':'Low'","legendX":418,"legendY":62}}}},
      {"transform": [{"filter": "datum.pn==='b2' && datum.r==='Total'"}], "mark": {"type": "text", "dy": -3.5, "fontSize": 7.5}, "encoding": {"text": {"field": "p", "type": "nominal"}}},
      {"transform": [{"filter": "datum.pn==='b2' && datum.r==='Total'"}], "mark": {"type": "text", "dy": 4, "fontSize": 6.5, "text": {"expr": "'(' + datum.n + ')'"}}}
     ]}
   ]},
   {"bounds": "flush", "spacing": 8, "vconcat": [
    {"width": 120, "height": 103, "data": {"name": "cells"},
     "encoding": {
      "x": {"field": "c", "type": "nominal", "scale": {"domain": ["GG","GA","AA","Total"], "paddingInner": 0, "paddingOuter": 0}, "axis": {"orient": "top", "offset": 2, "title": "KLK3: rs4802754 (DD_int_or, p=4.2 x10⁻¹¹)", "titleFontSize": 7, "titleColor": "#2e75b6", "titlePadding": 5}},
      "y": {"field": "r", "type": "nominal", "scale": {"domain": ["GG","GA","AA"], "paddingInner": 0, "paddingOuter": 0}, "axis": {"offset": 2, "title": "rs2569735", "titleFontSize": 5, "titleFontWeight": "normal", "titleColor": "#7f7f7f", "titlePadding": 3}}
     },
     "layer": [
      {"transform": [{"filter": "datum.pn==='b3' && datum.r!=='Total' && datum.c!=='Total'"}], "mark": "rect", "encoding": {"color": {"field":"p","type":"quantitative","scale":{"domain":[0,0.11,0.2,0.25,0.3,0.4,0.5,0.75,1],"range":["#ffffff","#fcdcd6","#f9b8aa","#f6a393","#f28676","#eb5b4b","#e43b33","#d22e2a","#b3221f"]},"legend":{"title":["Outcome","Proportion"],"values":[0,1],"labelExpr":"datum.value>=1?'High':'Low'","legendX":418,"legendY":62}}}},
      {"transform": [{"filter": "datum.pn==='b3' && datum.r!=='Total' && datum.c==='Total'"}], "mark": {"type": "rect", "width": {"band": 0.6}}, "encoding": {"color": {"field":"p","type":"quantitative","scale":{"domain":[0,0.11,0.2,0.25,0.3,0.4,0.5,0.75,1],"range":["#ffffff","#fcdcd6","#f9b8aa","#f6a393","#f28676","#eb5b4b","#e43b33","#d22e2a","#b3221f"]},"legend":{"title":["Outcome","Proportion"],"values":[0,1],"labelExpr":"datum.value>=1?'High':'Low'","legendX":418,"legendY":62}}}},
      {"transform": [{"filter": "datum.pn==='b3' && datum.r!=='Total'"}], "mark": {"type": "text", "dy": -4, "fontSize": 8}, "encoding": {"text": {"field": "p", "type": "nominal"}}},
      {"transform": [{"filter": "datum.pn==='b3' && datum.r!=='Total'"}], "mark": {"type": "text", "dy": 4, "fontSize": 7, "text": {"expr": "'(' + datum.n + ')'"}}},
      {"data": {"values": [{}]}, "mark": {"type": "rect", "filled": false, "stroke": "#4472c4", "strokeWidth": 1.5}, "encoding": {"x": {"datum": "GG", "type": "nominal", "bandPosition": 0}, "x2": {"datum": "GG", "bandPosition": 1}, "y": {"datum": "GA", "type": "nominal", "bandPosition": 0}, "y2": {"datum": "AA", "bandPosition": 1}}},
      {"data": {"values": [{}]}, "mark": {"type": "text", "text": "OR=1.35", "fontSize": 6, "color": "#ffffff", "yOffset": 5}, "encoding": {"x": {"datum": "GG", "type": "nominal"}, "y": {"datum": "AA", "type": "nominal", "bandPosition": 0}}}
     ]},
    {"width": 120, "height": 16, "data": {"name": "cells"},
     "encoding": {
      "x": {"field": "c", "type": "nominal", "scale": {"domain": ["GG","GA","AA","Total"], "paddingInner": 0, "paddingOuter": 0}, "axis": null},
      "y": {"field": "r", "type": "nominal", "scale": {"domain": ["Total"], "paddingInner": 0, "paddingOuter": 0}, "axis": {"title": null, "domain": false, "labelPadding": 4}}
     },
     "layer": [
      {"transform": [{"filter": "datum.pn==='b3' && datum.r==='Total' && datum.c!=='Total'"}], "mark": "rect", "encoding": {"color": {"field":"p","type":"quantitative","scale":{"domain":[0,0.11,0.2,0.25,0.3,0.4,0.5,0.75,1],"range":["#ffffff","#fcdcd6","#f9b8aa","#f6a393","#f28676","#eb5b4b","#e43b33","#d22e2a","#b3221f"]},"legend":{"title":["Outcome","Proportion"],"values":[0,1],"labelExpr":"datum.value>=1?'High':'Low'","legendX":418,"legendY":62}}}},
      {"transform": [{"filter": "datum.pn==='b3' && datum.r==='Total' && datum.c==='Total'"}], "mark": {"type": "rect", "width": {"band": 0.6}}, "encoding": {"color": {"field":"p","type":"quantitative","scale":{"domain":[0,0.11,0.2,0.25,0.3,0.4,0.5,0.75,1],"range":["#ffffff","#fcdcd6","#f9b8aa","#f6a393","#f28676","#eb5b4b","#e43b33","#d22e2a","#b3221f"]},"legend":{"title":["Outcome","Proportion"],"values":[0,1],"labelExpr":"datum.value>=1?'High':'Low'","legendX":418,"legendY":62}}}},
      {"transform": [{"filter": "datum.pn==='b3' && datum.r==='Total'"}], "mark": {"type": "text", "dy": -3.5, "fontSize": 7.5}, "encoding": {"text": {"field": "p", "type": "nominal"}}},
      {"transform": [{"filter": "datum.pn==='b3' && datum.r==='Total'"}], "mark": {"type": "text", "dy": 4, "fontSize": 6.5, "text": {"expr": "'(' + datum.n + ')'"}}}
     ]}
   ]}
  ]}
 ]
}
